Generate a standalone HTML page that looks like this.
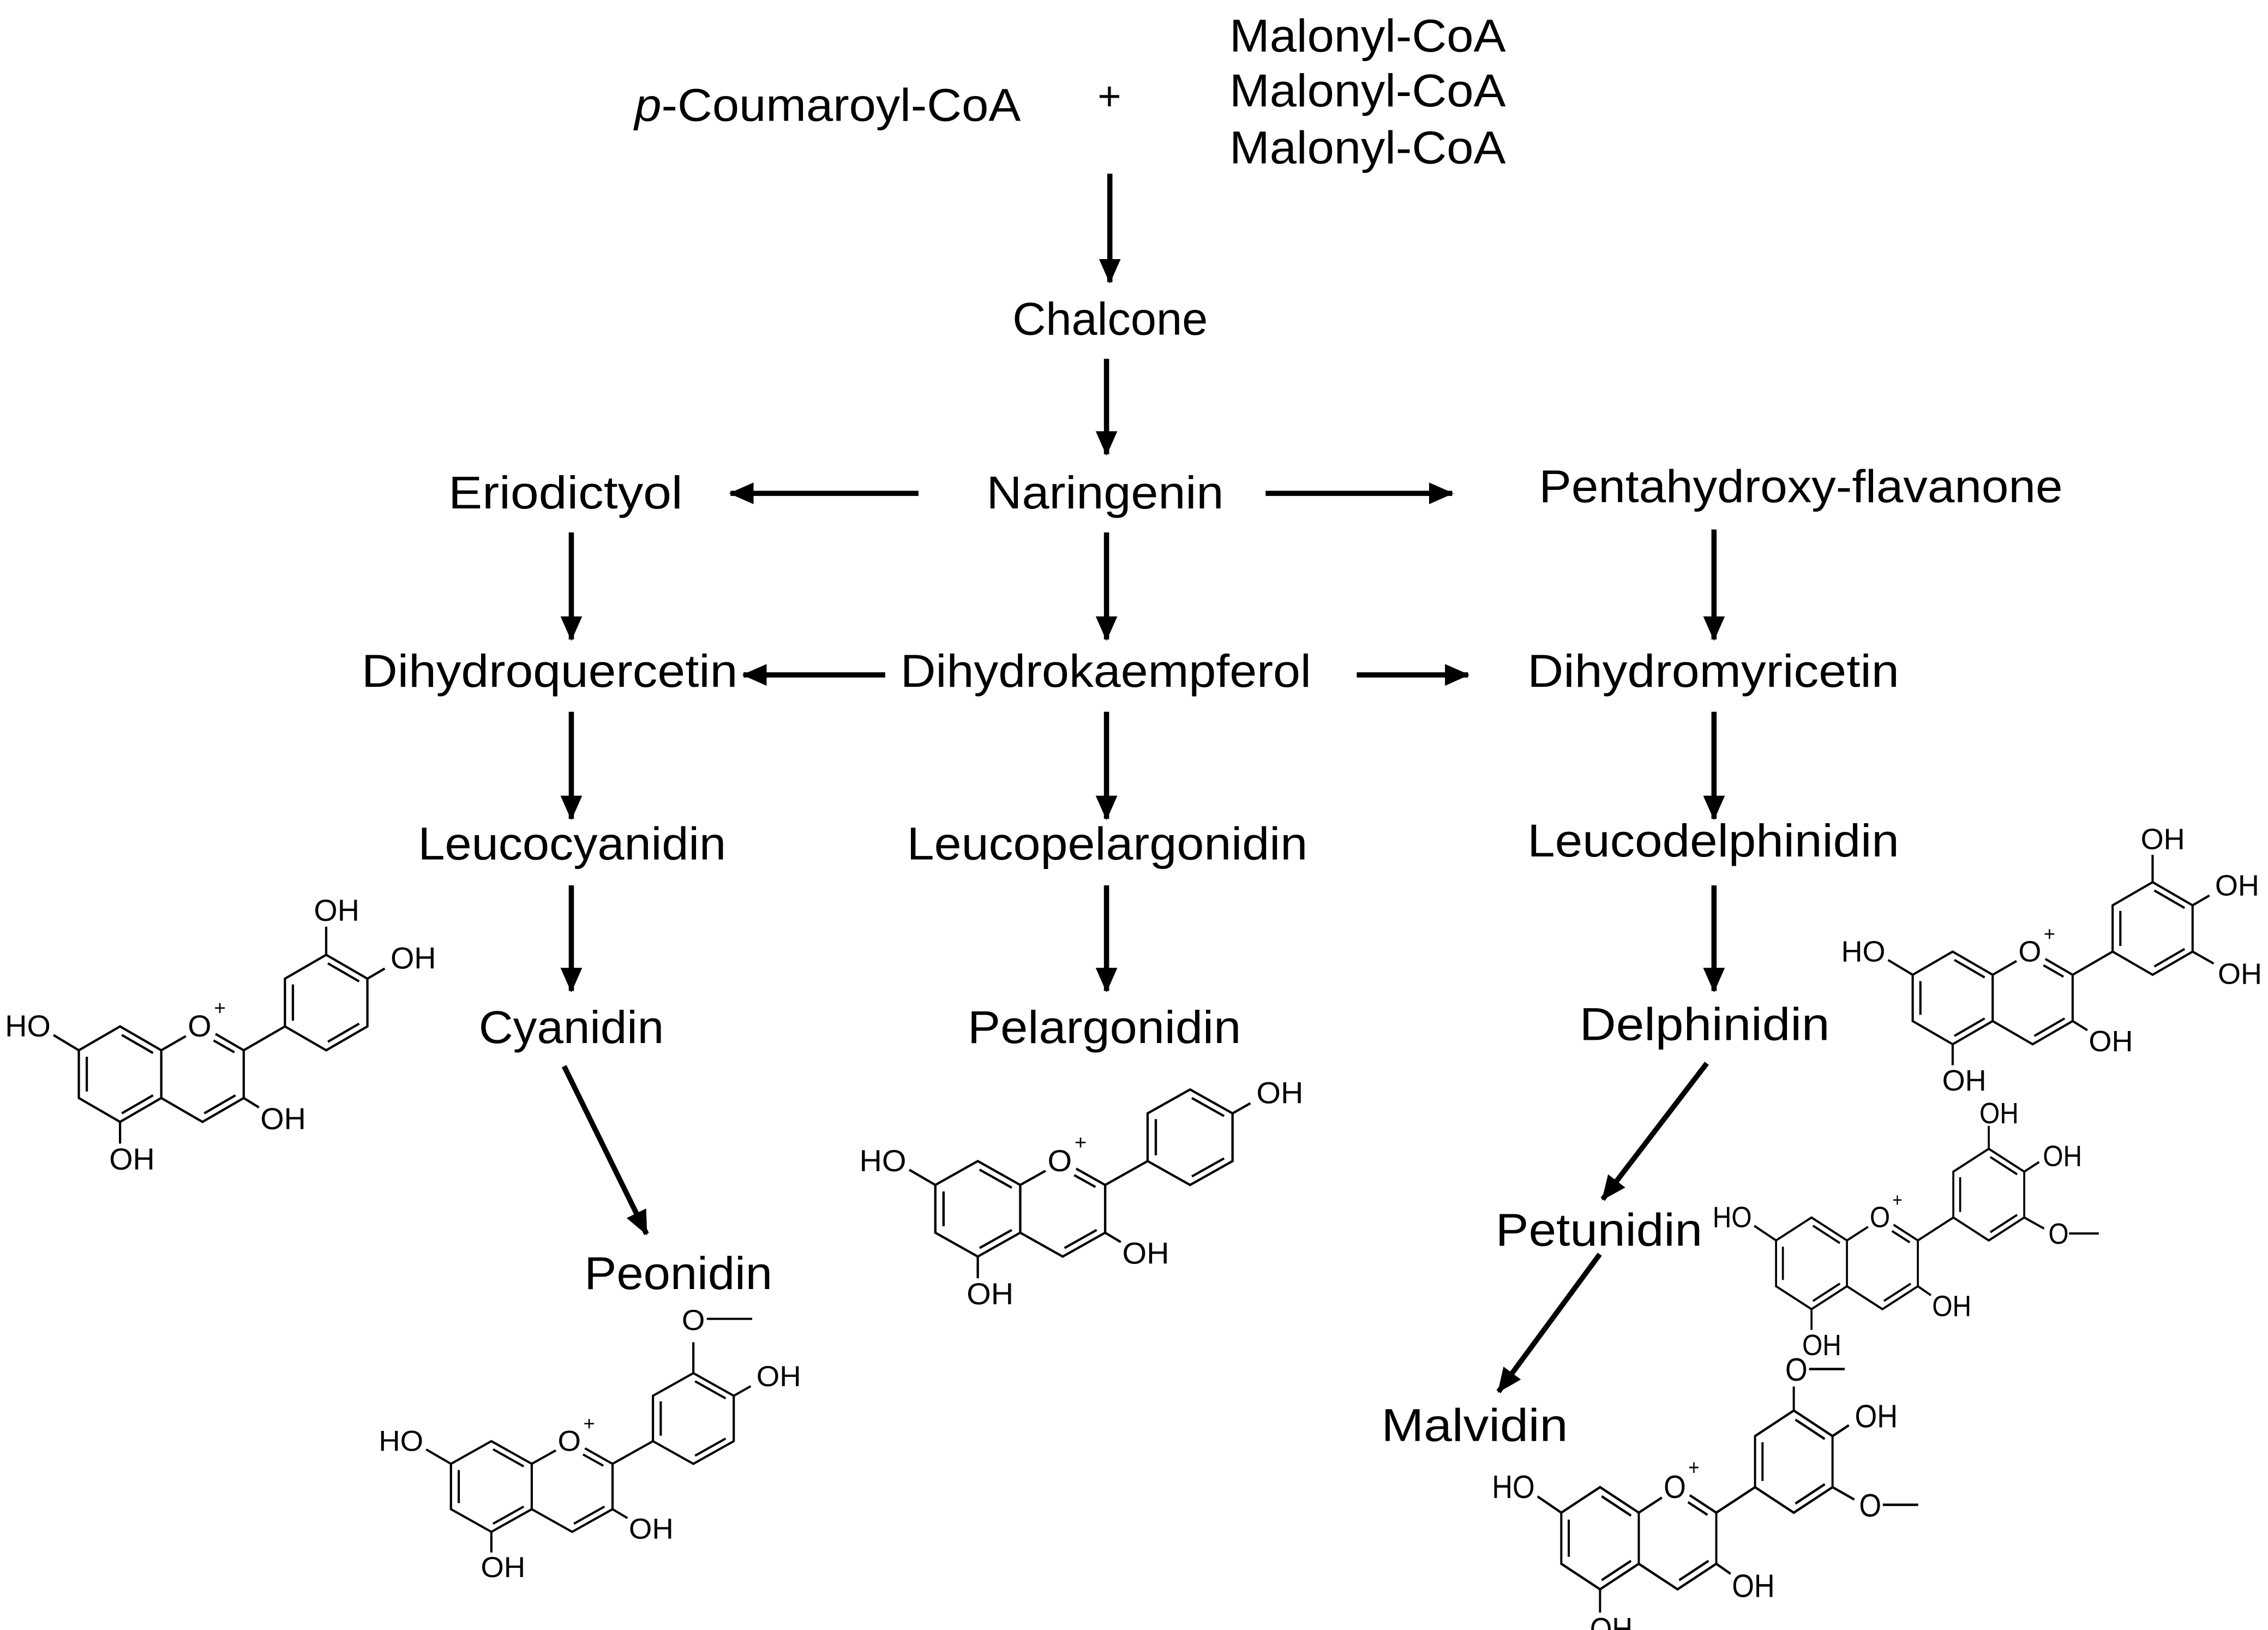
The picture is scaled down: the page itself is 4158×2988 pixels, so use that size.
<!DOCTYPE html>
<html><head><meta charset="utf-8"><style>
html,body{margin:0;padding:0;background:#fff;}
svg{display:block;}
text{font-family:"Liberation Sans",sans-serif;fill:#000;}
.L{font-size:32px;}
.m{font-size:21px;}
.p{font-size:14px;}
</style></head><body>
<svg xmlns="http://www.w3.org/2000/svg" width="4158" height="2988" viewBox="0 0 1568 1126.7">
<defs>
<marker id="ah" markerUnits="userSpaceOnUse" markerWidth="18" markerHeight="16" refX="16" refY="7.5" orient="auto">
<path d="M0,0 L17,7.5 L0,15 z" fill="#000"/>
</marker>
<g id="core" fill="none" stroke="#000" stroke-width="1.6">
<path d="M0,0 L-28.5,16.5 L-28.5,49.5 L0,66 L28.5,49.5 L28.5,16.5 Z M28.5,16.5 L45.5,6.7 M66,5.2 L85.5,16.5 L85.5,49.5 L57,66 L28.5,49.5 M85.5,16.5 L114,0 M114,0 L114,-33 L142.5,-49.5 L171,-33 L171,0 L142.5,16.5 Z"/>
<path d="M-23,21 L-23,45 M1.2,5.9 L22.8,18.4 M22.8,47.6 L1.2,60.1 M64.7,9.7 L79,17.9 M79.8,47.6 L58.2,60.1 M119.5,-4 L119.5,-29 M143.7,-43.6 L165.3,-31.1 M165.3,-1.9 L143.7,10.6"/>
<path d="M-28.5,16.5 L-46,6 M0,66 L0,81 M85.5,49.5 L96,56"/>
</g>
</defs>
<rect width="1568" height="1127" fill="#fff"/>

<!-- main labels -->
<text class="L" x="438.7" y="83.5" textLength="267" lengthAdjust="spacingAndGlyphs"><tspan font-style="italic">p</tspan>-Coumaroyl-CoA</text>
<text x="767" y="76" font-size="28" text-anchor="middle">+</text>
<text class="L" x="850" y="35.6" textLength="191" lengthAdjust="spacingAndGlyphs">Malonyl-CoA</text>
<text class="L" x="850" y="73.5" textLength="191" lengthAdjust="spacingAndGlyphs">Malonyl-CoA</text>
<text class="L" x="850" y="112.9" textLength="191" lengthAdjust="spacingAndGlyphs">Malonyl-CoA</text>
<text class="L" x="700" y="231.3" textLength="135" lengthAdjust="spacingAndGlyphs">Chalcone</text>
<text class="L" x="682" y="351.4" textLength="164" lengthAdjust="spacingAndGlyphs">Naringenin</text>
<text class="L" x="310" y="351.4" textLength="162" lengthAdjust="spacingAndGlyphs">Eriodictyol</text>
<text class="L" x="1064" y="347" textLength="362" lengthAdjust="spacingAndGlyphs">Pentahydroxy-flavanone</text>
<text class="L" x="250" y="474.7" textLength="260" lengthAdjust="spacingAndGlyphs">Dihydroquercetin</text>
<text class="L" x="622.5" y="474.7" textLength="284" lengthAdjust="spacingAndGlyphs">Dihydrokaempferol</text>
<text class="L" x="1056" y="474.7" textLength="257" lengthAdjust="spacingAndGlyphs">Dihydromyricetin</text>
<text class="L" x="289" y="594" textLength="213" lengthAdjust="spacingAndGlyphs">Leucocyanidin</text>
<text class="L" x="627" y="594" textLength="277" lengthAdjust="spacingAndGlyphs">Leucopelargonidin</text>
<text class="L" x="1056" y="592" textLength="257" lengthAdjust="spacingAndGlyphs">Leucodelphinidin</text>
<text class="L" x="331" y="721" textLength="128" lengthAdjust="spacingAndGlyphs">Cyanidin</text>
<text class="L" x="669" y="721" textLength="189" lengthAdjust="spacingAndGlyphs">Pelargonidin</text>
<text class="L" x="1092" y="719" textLength="173" lengthAdjust="spacingAndGlyphs">Delphinidin</text>
<text class="L" x="404" y="891" textLength="130" lengthAdjust="spacingAndGlyphs">Peonidin</text>
<text class="L" x="1034" y="861" textLength="143" lengthAdjust="spacingAndGlyphs">Petunidin</text>
<text class="L" x="955" y="996" textLength="129" lengthAdjust="spacingAndGlyphs">Malvidin</text>

<!-- arrows -->
<g stroke="#000" stroke-width="3.6" fill="none" marker-end="url(#ah)">
<line x1="767.3" y1="120" x2="767.3" y2="195"/>
<line x1="765" y1="248" x2="765" y2="314"/>
<line x1="635" y1="341" x2="505" y2="341"/>
<line x1="875" y1="341" x2="1004" y2="341"/>
<line x1="765" y1="368" x2="765" y2="442"/>
<line x1="395" y1="368" x2="395" y2="442"/>
<line x1="1185" y1="366" x2="1185" y2="442"/>
<line x1="612" y1="466.5" x2="514" y2="466.5"/>
<line x1="938" y1="466.5" x2="1015" y2="466.5"/>
<line x1="395" y1="492" x2="395" y2="566"/>
<line x1="765" y1="492" x2="765" y2="566"/>
<line x1="1185" y1="492" x2="1185" y2="566"/>
<line x1="395" y1="612" x2="395" y2="685"/>
<line x1="765" y1="612" x2="765" y2="685"/>
<line x1="1185" y1="612" x2="1185" y2="685"/>
<line x1="390" y1="737" x2="447" y2="853"/>
<line x1="1180" y1="735" x2="1108" y2="829"/>
<line x1="1106" y1="867" x2="1036" y2="962"/>
</g>

<!-- Cyanidin -->
<g transform="translate(83,709.5)">
<use href="#core"/>
<path d="M142.5,-49.5 L142.5,-69 M171,-33 L183,-40" stroke="#000" stroke-width="1.6" fill="none"/>
<text class="m" x="-48" y="7" text-anchor="end">HO</text>
<text class="m" x="55" y="7" text-anchor="middle">O</text>
<text class="p" x="69" y="-8" text-anchor="middle">+</text>
<text class="m" x="-7.5" y="99">OH</text>
<text class="m" x="97" y="71">OH</text>
<text class="m" x="134" y="-73">OH</text>
<text class="m" x="187" y="-40">OH</text>
</g>

<!-- Pelargonidin -->
<g transform="translate(676,802.6) scale(1.03,1)">
<use href="#core"/>
<path d="M171,-33 L183,-40" stroke="#000" stroke-width="1.6" fill="none"/>
<text class="m" x="-48" y="7" text-anchor="end">HO</text>
<text class="m" x="55" y="7" text-anchor="middle">O</text>
<text class="p" x="69" y="-8" text-anchor="middle">+</text>
<text class="m" x="-7.5" y="99">OH</text>
<text class="m" x="97" y="71">OH</text>
<text class="m" x="187" y="-40">OH</text>
</g>

<!-- Peonidin -->
<g transform="translate(339.7,996.2) scale(0.98,0.95)">
<use href="#core"/>
<path d="M142.5,-49.5 L142.5,-72 M171,-33 L183,-40 M152,-89 L184,-89" stroke="#000" stroke-width="1.6" fill="none"/>
<text class="m" x="-48" y="7" text-anchor="end">HO</text>
<text class="m" x="55" y="7" text-anchor="middle">O</text>
<text class="p" x="69" y="-8" text-anchor="middle">+</text>
<text class="m" x="-7.5" y="99">OH</text>
<text class="m" x="97" y="71">OH</text>
<text class="m" x="142.5" y="-81" text-anchor="middle">O</text>
<text class="m" x="187" y="-40">OH</text>
</g>

<!-- Delphinidin -->
<g transform="translate(1350,657.8) scale(0.97,0.97)">
<use href="#core"/>
<path d="M142.5,-49.5 L142.5,-69 M171,-33 L183,-40 M171,0 L186,8.5" stroke="#000" stroke-width="1.6" fill="none"/>
<text class="m" x="-48" y="7" text-anchor="end">HO</text>
<text class="m" x="55" y="7" text-anchor="middle">O</text>
<text class="p" x="69" y="-8" text-anchor="middle">+</text>
<text class="m" x="-7.5" y="99">OH</text>
<text class="m" x="97" y="71">OH</text>
<text class="m" x="134" y="-73">OH</text>
<text class="m" x="187" y="-40">OH</text>
<text class="m" x="189" y="23">OH</text>
</g>

<!-- Petunidin -->
<g transform="translate(1252.4,841.6) scale(0.86,0.96)">
<use href="#core"/>
<path d="M142.5,-49.5 L142.5,-66 M171,-33 L183,-40 M171,0 L187,8 M207,11.5 L231,11.5" stroke="#000" stroke-width="1.6" fill="none"/>
<text class="m" x="-48" y="7" text-anchor="end">HO</text>
<text class="m" x="55" y="7" text-anchor="middle">O</text>
<text class="p" x="69" y="-8" text-anchor="middle">+</text>
<text class="m" x="-7.5" y="99">OH</text>
<text class="m" x="97" y="71">OH</text>
<text class="m" x="135" y="-68">OH</text>
<text class="m" x="186" y="-37">OH</text>
<text class="m" x="198.6" y="19" text-anchor="middle">O</text>
</g>

<!-- Malvidin -->
<g transform="translate(1106.2,1028) scale(0.94,1.07)">
<use href="#core"/>
<path d="M142.5,-49.5 L142.5,-65 M171,-33 L183,-40 M171,0 L187,8 M153.7,-76.3 L180,-76.3 M208,11.4 L234,11.4" stroke="#000" stroke-width="1.6" fill="none"/>
<text class="m" x="-48" y="7" text-anchor="end">HO</text>
<text class="m" x="55" y="7" text-anchor="middle">O</text>
<text class="p" x="69" y="-8" text-anchor="middle">+</text>
<text class="m" x="-7.5" y="99">OH</text>
<text class="m" x="97" y="71">OH</text>
<text class="m" x="144.4" y="-68.7" text-anchor="middle">O</text>
<text class="m" x="187.4" y="-38.7">OH</text>
<text class="m" x="198.7" y="19" text-anchor="middle">O</text>
</g>
</svg>
</body></html>
